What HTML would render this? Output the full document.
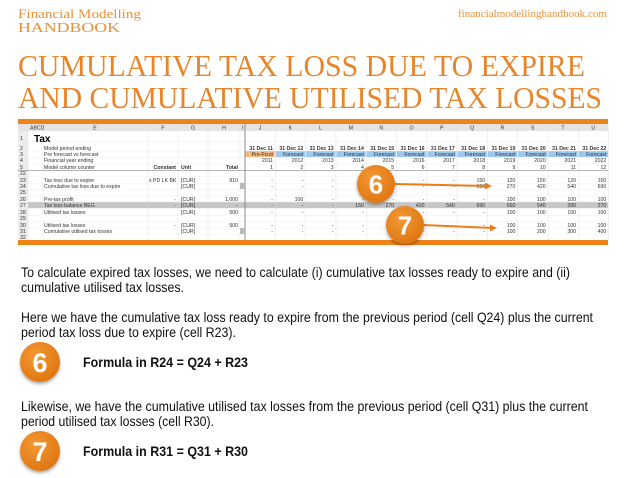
<!DOCTYPE html>
<html><head><meta charset="utf-8"><style>
html,body{margin:0;padding:0;background:#fff;}
svg{display:block;}
.ss{font-family:"Liberation Sans",sans-serif;font-size:5.2px;fill:#333;}
</style></head><body>
<svg id="s" width="638" height="478" viewBox="0 0 638 478" xmlns="http://www.w3.org/2000/svg">
<defs>
<radialGradient id="og" cx="40%" cy="35%" r="70%"><stop offset="0" stop-color="#f39a35"/><stop offset="1" stop-color="#de7410"/></radialGradient>
<filter id="sh" x="-30%" y="-30%" width="160%" height="170%"><feDropShadow dx="0" dy="2" stdDeviation="1.5" flood-color="#000" flood-opacity="0.35"/></filter>
</defs>
<g font-family="'Liberation Serif',serif" fill="#e8913a">
<text x="18" y="18" font-size="13" textLength="123" lengthAdjust="spacingAndGlyphs">Financial Modelling</text>
<text x="18" y="32" font-size="14" textLength="102" lengthAdjust="spacingAndGlyphs">HANDBOOK</text>
</g>
<text x="607" y="17" text-anchor="end" font-family="'Liberation Serif',serif" font-size="11" fill="#e8913a" textLength="149" lengthAdjust="spacingAndGlyphs">financialmodellinghandbook.com</text>
<g font-family="'Liberation Serif',serif" font-size="31" fill="#e8852a">
<text x="18" y="76" textLength="567" lengthAdjust="spacingAndGlyphs">CUMULATIVE TAX LOSS DUE TO EXPIRE</text>
<text x="18" y="108" textLength="584" lengthAdjust="spacingAndGlyphs">AND CUMULATIVE UTILISED TAX LOSSES</text>
</g>
<g id="sheet"></g>
<g id="callouts"></g>
<g font-family="'Liberation Sans',sans-serif" font-size="14" fill="#111">
<text x="21" y="277" textLength="549" lengthAdjust="spacingAndGlyphs">To calculate expired tax losses, we need to calculate (i) cumulative tax losses ready to expire and (ii)</text>
<text x="21" y="292" textLength="163" lengthAdjust="spacingAndGlyphs">cumulative utilised tax losses.</text>
<text x="21" y="322" textLength="572" lengthAdjust="spacingAndGlyphs">Here we have the cumulative tax loss ready to expire from the previous period (cell Q24) plus the current</text>
<text x="21" y="337" textLength="215" lengthAdjust="spacingAndGlyphs">period tax loss due to expire (cell R23).</text>
<text x="83" y="367" font-weight="bold" textLength="165" lengthAdjust="spacingAndGlyphs">Formula in R24 = Q24 + R23</text>
<text x="21" y="411" textLength="567" lengthAdjust="spacingAndGlyphs">Likewise, we have the cumulative utilised tax losses from the previous period (cell Q31) plus the current</text>
<text x="21" y="426" textLength="193" lengthAdjust="spacingAndGlyphs">period utilised tax losses (cell R30).</text>
<text x="83" y="456" font-weight="bold" textLength="165" lengthAdjust="spacingAndGlyphs">Formula in R31 = Q31 + R30</text>
</g>
<g filter="url(#sh)"><circle cx="40" cy="362" r="20" fill="url(#og)"/><text x="40" y="372" text-anchor="middle" font-family="'Liberation Sans',sans-serif" font-size="27" font-weight="bold" fill="#fff">6</text></g>
<g filter="url(#sh)"><circle cx="40" cy="451" r="20" fill="url(#og)"/><text x="40" y="461" text-anchor="middle" font-family="'Liberation Sans',sans-serif" font-size="27" font-weight="bold" fill="#fff">7</text></g>
</svg>
<script>
const periods=['31 Dec 11','31 Dec 12','31 Dec 13','31 Dec 14','31 Dec 15','31 Dec 16','31 Dec 17','31 Dec 18','31 Dec 19','31 Dec 20','31 Dec 21','31 Dec 22'];
const years=[2011,2012,2013,2014,2015,2016,2017,2018,2019,2020,2021,2022];
const counters=[1,2,3,4,5,6,7,8,9,10,11,12];
const taxLossDue=['-','-','-','-','-','-','-',150,120,150,120,150];
const cumTaxLossDue=['-','-','-','-','-','-','-',150,270,420,540,690];
const preTaxProfit=['-',100,'-','-','-','-','-','-',100,100,100,100];
const taxLossBalance=['-','-','-',150,270,420,540,690,660,540,390,270];
const utilised=['-','-','-','-','-','-','-','-',100,100,100,100];
const utilised2=['-','-','-','-','-','-','-','-',100,100,100,100];
const cumUtilised=['-','-','-','-','-','-','-','-',100,200,300,400];
const colLetters=['J','K','L','M','N','O','P','Q','R','S','T','U'];

const NS='http://www.w3.org/2000/svg';
const sheet=document.getElementById('sheet');
function mk(tag,at,parent){const e=document.createElementNS(NS,tag);for(const k in at)e.setAttribute(k,at[k]);(parent||sheet).appendChild(e);return e;}
function tx(x,y,s,anchor,extra){const e=mk('text',Object.assign({x:x,y:y,class:'ss','text-anchor':anchor||'start'},extra||{}));e.textContent=s;return e;}
const colX=i=>245+i*30.3;  // left edge of period column i
const rowY={1:138,2:148,3:154,4:160,5:167,22:173,23:180,24:186,25:192,26:199,27:205,28:212,29:218,30:225,31:231,32:237};

mk('rect',{x:18,y:119,width:590,height:126,fill:'#fff'});
mk('rect',{x:18,y:124,width:590,height:7,fill:'#e4e4e4'});
mk('rect',{x:18,y:131,width:10,height:109,fill:'#ececec'});
let r27=mk('rect',{x:28,y:rowY[27]-3.1,width:580,height:6.3,fill:'#c6c6c6'});


// row 3 highlights
for(let i=0;i<12;i++){
  const r=mk('rect',{x:colX(i)+0.5,y:rowY[3]-3,width:29.3,height:6,fill:i===0?'#f6b77a':'#9cc8f0'});
  
  
}
// grid
const vcols=[28,43,148,178,208,240,245];
for(let i=0;i<=12;i++)vcols.push(colX(i));
vcols.forEach(x=>mk('line',{x1:x,y1:124,x2:x,y2:240,stroke:'#dadada','stroke-width':0.4}));
Object.keys(rowY).forEach(k=>{const y=rowY[k]+3.2;mk('line',{x1:18,y1:y,x2:608,y2:y,stroke:'#e2e2e2','stroke-width':0.3});});
mk('line',{x1:245,y1:124,x2:245,y2:240,stroke:'#777','stroke-width':0.8});
mk('line',{x1:18,y1:170.3,x2:608,y2:170.3,stroke:'#888','stroke-width':0.6});
mk('rect',{x:240,y:rowY[24]-3,width:5,height:6,fill:'#bbb'});
mk('rect',{x:240,y:rowY[31]-3,width:5,height:6,fill:'#bbb'});
// orange bars
mk('rect',{x:18,y:119,width:590,height:5,fill:'#ee8418'});
mk('rect',{x:18,y:240,width:590,height:5,fill:'#ee8418'});
// column header letters
tx(30,129.5,'ABCD');
[['E',95],['F',163],['G',193],['H',224],['I',242.5]].forEach(a=>tx(a[1],129.5,a[0],'middle'));
colLetters.forEach((c,i)=>tx(colX(i)+15,129.5,c,'middle'));
// row numbers
Object.keys(rowY).forEach(k=>tx(20,rowY[k]+1.8,k));
tx(34,rowY[1]+4,'Tax','start',{style:'font-size:10px;font-weight:bold;fill:#000'});
const labels={2:'Model period ending',3:'Pre forecast vs forecast',4:'Financial year ending',5:'Model column counter',23:'Tax loss due to expire',24:'Cumulative tax loss due to expire',26:'Pre-tax profit',27:'Tax loss balance BEG',28:'Utilised tax losses',30:'Utilised tax losses',31:'Cumulative utilised tax losses'};
Object.keys(labels).forEach(k=>tx(44,rowY[k]+1.8,labels[k]));
tx(176,rowY[5]+1.8,'Constant','end',{'font-weight':'bold'});
tx(181,rowY[5]+1.8,'Unit','start',{'font-weight':'bold'});
tx(238,rowY[5]+1.8,'Total','end',{'font-weight':'bold'});
tx(149,rowY[23]+1.8,'x PD LK BK');
[[26,'-'],[27,'-'],[30,'-']].forEach(a=>tx(176,rowY[a[0]]+1.8,a[1],'end'));
[23,24,26,27,28,30,31].forEach(k=>tx(181,rowY[k]+1.8,'[CUR]'));
[[23,'810'],[26,'1,000'],[27,'-'],[28,'500'],[30,'500']].forEach(a=>tx(238,rowY[a[0]]+1.8,a[1],'end'));
const rows=[[2,periods,true],[3,periods.map((p,i)=>i===0?'Pre-Frcst':'Forecast'),false],[4,years],[5,counters],[23,taxLossDue],[24,cumTaxLossDue],[26,preTaxProfit],[27,taxLossBalance],[28,utilised],[30,utilised2],[31,cumUtilised]];
rows.forEach(r=>{
  r[1].forEach((v,i)=>{
    const e=tx(colX(i)+28,rowY[r[0]]+1.8,String(v),'end',r[2]?{'font-weight':'bold'}:{});
    
    
  });
});
// callouts on sheet
const cg=document.getElementById('callouts');
function callout(n,cx,cy,x2,y2){
  const g=mk('g',{},cg);
  
  
  mk('line',{x1:cx+18,y1:cy,x2:x2-4,y2:y2,stroke:'#e67e1c','stroke-width':2},g);
  mk('path',{d:`M${x2} ${y2} L${x2-7} ${y2-3.5} L${x2-7} ${y2+3.5}Z`,fill:'#e67e1c'},g);
  const c=mk('g',{filter:'url(#sh)'},g);
  mk('circle',{cx:cx,cy:cy,r:19,fill:'url(#og)'},c);
  const t=mk('text',{x:cx,y:cy+9.5,'text-anchor':'middle','font-family':"'Liberation Sans',sans-serif",'font-size':26,'font-weight':'bold',fill:'#fff'},c);
  t.textContent=n;
}
callout('6',376,184,492,186);
callout('7',405,225,497,228);
</script>
</body></html>
